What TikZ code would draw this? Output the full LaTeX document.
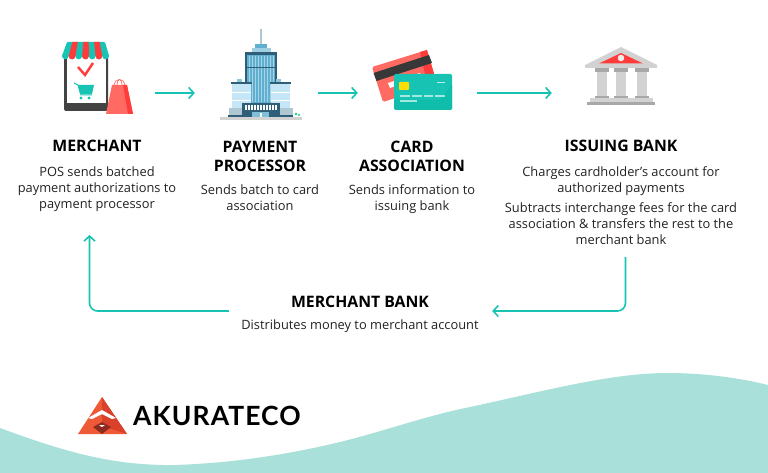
\documentclass[tikz,border=0pt]{standalone}
\usepackage{fontspec}
\usepackage{xcolor}
\usetikzlibrary{arrows.meta}
\setmainfont{Open Sans}
\newfontfamily\logofont[LetterSpace=4]{Lato}
\definecolor{teal1}{HTML}{17C3B2}
\definecolor{teal2}{HTML}{0FBDAA}
\definecolor{wave}{HTML}{A9E1DA}
\definecolor{coral}{HTML}{FF6B63}
\definecolor{redd}{HTML}{FF3B3B}
\definecolor{ink}{HTML}{222222}
\definecolor{stone}{HTML}{D2D2D2}
\definecolor{stonedk}{HTML}{A8A8A8}
\definecolor{towerdk}{HTML}{2F5F78}
\definecolor{towerbl}{HTML}{5EAFD0}
\definecolor{glass}{HTML}{C5E6F6}
\definecolor{logoa}{HTML}{EE5A36}
\definecolor{logob}{HTML}{D9412A}
\definecolor{logoc}{HTML}{8E2A20}
\tikzset{
  headtxt/.style={font=\bfseries\fontsize{15.8}{19}\selectfont,align=center,text=black,inner sep=0pt},
  bodytxt/.style={font=\fontsize{12.85}{15.8}\selectfont,align=center,text=ink,inner sep=0pt},
  iconbox/.style={minimum height=70pt,inner sep=0pt},
  flow/.style={draw=teal1,line width=1.6pt,-{Straight Barb[length=5pt,width=11pt,line width=1.6pt]}}
}
\begin{document}
\begin{tikzpicture}[x=1pt,y=-1pt]
        \useasboundingbox (0,0) rectangle (768,473);

        % Wave at the bottom
        \fill[wave] (0,428) .. controls (60,450) and (110,466) .. (175,465)
            .. controls (235,463) and (290,454) .. (340,442)
            .. controls (385,431) and (425,416) .. (470,407)
            .. controls (540,392) and (610,373) .. (667,373)
            .. controls (705,373) and (740,378) .. (768,385)
            -- (768,473) -- (0,473) -- cycle;

        % Logo
        \fill[logoa] (102,397) -- (127,434) -- (78,434) -- cycle;
        \fill[logob] (102,397) -- (127,434) -- (102,426) -- cycle;
        \fill[white] (88,418) -- (102,410) -- (116,418) -- (112,419) -- (102,414) -- (92,419) -- cycle;
        \fill[logoc] (93,427) -- (102,422) -- (111,427) -- (102,434) -- cycle;
        \fill[white] (99,425) -- (105,425) -- (102,427) -- cycle;
        \node[font=\logofont\bfseries\fontsize{26.5}{27}\selectfont,anchor=west,inner sep=0pt] (logo) at (133,415.5) {AKURATECO};

        % Shop icon
        \fill[ink!85,rounded corners=2pt] (64,52) -- (64,111) -- (108,111) -- (108,52) -- cycle;
        \fill[white] (66.5,52) rectangle (105.5,103);
        \fill[teal1,rounded corners=1pt] (67,42) -- (105,42) -- (109,56) -- (62,56) -- cycle;
        \foreach \k in {0,1,...,6}
            \fill[teal1] ({62+(\k+.5)*6.71},56) circle (3.36);
        \foreach \k in {1,3,5}{
            \fill[redd] ({67+\k*5.43},42) -- ({67+(\k+1)*5.43},42) -- ({62+(\k+1)*6.71},56) -- ({62+\k*6.71},56) -- cycle;
            \fill[redd] ({62+(\k+.5)*6.71},56) circle (3.36);
        }
        \draw[redd,line width=2.4pt] (78,67) -- (85,75) -- (93,63);
        \draw[teal1,line width=1pt] (74,83) -- (78,85) -- (81,95) -- (92,95);
        \fill[teal1] (78,85) -- (94,85) -- (92,94) -- (80,94) -- cycle;
        \fill[teal1] (81,98) circle (1.6) (89,98) circle (1.6);
        \fill[coral] (112,85) -- (127,85) -- (133,114) -- (106,114) -- cycle;
        \fill[redd] (123,85) -- (127,85) -- (133,114) -- (128,114) -- cycle;
        \draw[coral,line width=.7pt] (114,85) arc[start angle=180,end angle=360,radius=5.5];
        \draw[coral,line width=.7pt] (117,85) arc[start angle=180,end angle=360,x radius=2.5,y radius=5.5];

        % Building icon
        \fill[stone] (220,117) rectangle (302,120);
        \fill[stone!70!towerbl] (260,29) rectangle (262,44);
        \fill[towerbl] (255,44) rectangle (267,48);
        \fill[towerbl!60] (252,48) rectangle (271,52);
        \fill[towerdk] (245,52) rectangle (277,103);
        \fill[towerbl] (247,55) rectangle (275,103);
        \foreach \x in {249,252,...,273}
            \fill[towerbl!55] (\x,56) rectangle (\x+1,102);
        \draw[towerdk,line width=.6pt] (247,67) -- (275,67);
        \foreach \x/\w in {232/19,271/19}{
            \fill[glass] (\x,84) rectangle (\x+\w,108);
            \fill[towerdk] (\x-1,82.5) rectangle (\x+\w+1,84.5);
            \fill[towerbl!70] (\x+5,79) rectangle (\x+10,82.5);
            \foreach \y in {92,100}
                \fill[white] (\x,\y) rectangle (\x+\w,\y+1);
        }
        \fill[stone!70!towerbl] (229,108) rectangle (242,116);
        \fill[stone!70!towerbl] (280,108) rectangle (293,116);
        \fill[towerdk] (228,115) rectangle (293,117.5);
        \fill[towerdk] (242,103) rectangle (280,117);
        \foreach \x in {245,248,...,275}
            \fill[white] (\x,105) rectangle (\x+2,110);
        \fill[towerbl!80] (252,112) rectangle (269,117);
        \fill[white] (260,113) rectangle (262,117);
        \fill[teal1!70!green] (296,114) circle (1.3) (299,115) circle (1.2);

        % Cards icon
        \fill[coral,rounded corners=1.5pt] (372,67) -- (427,50) -- (437,84) -- (383,102) -- cycle;
        \fill[redd] (420,52) -- (427,50) -- (437,84) -- (428,87) -- cycle;
        \fill[ink!90] (373.5,73) -- (429,55) -- (432,63) -- (376.5,81) -- cycle;
        \fill[white] (388,83) -- (420,73) -- (421,77) -- (390,88) -- cycle;
        \fill[teal1,rounded corners=1.5pt] (394,74) rectangle (452,110);
        \fill[teal2,rounded corners=1.5pt] (394,100) -- (440,100) -- (452,84) -- (452,110) -- (394,110) -- cycle;
        \fill[yellow!80!orange,rounded corners=.8pt] (399,82) rectangle (409,90);
        \fill[white!70!teal1] (437,82.5) rectangle (445,83.5);
        \foreach \x in {400,412,423.5,435}
            \fill[white!60!teal1] (\x,95.5) rectangle (\x+9.5,96.8);
        \fill[white!60!teal1] (400,100.5) rectangle (417,101.7);

        % Bank icon
        \fill[stone] (621,47) -- (657,65) -- (657,68) -- (585,68) -- (585,65) -- cycle;
        \fill[redd] (621,53) -- (643,63.5) -- (599,63.5) -- cycle;
        \fill[stone!40] (621,58) circle (3.3);
        \foreach \x in {602,621,641.5}{
            \fill[stone] (\x-5,72) rectangle (\x+5,98);
            \fill[stonedk] (\x-7,68) rectangle (\x+7,72);
            \fill[stonedk] (\x-7,96.5) rectangle (\x+7,98.5);
        }
        \fill[stone] (590,98) rectangle (653,102);
        \fill[stonedk] (587,102) rectangle (655,105.5);

        % Empty boxes round the icons
        \node[iconbox,minimum width=115pt] (merchbox) at (97.5,93) {};
        \node[iconbox,minimum width=123pt] (procbox) at (256.5,93) {};
        \node[iconbox,minimum width=119pt] (cardbox) at (417.5,93) {};
        \node[iconbox,minimum width=138pt] (bankbox) at (621,93) {};
        \node[iconbox,minimum width=263pt,minimum height=40pt] (mbankbox) at (360.5,311) {};
        \coordinate (issueend) at (625.5,257);
        \coordinate (merchend) at (89.5,235);

        % Texts
        \node[headtxt] (merchhead) at (97,146) {MERCHANT};
        \node[bodytxt,anchor=north] (merchtxt) at (97,166.8) {POS sends batched\\payment authorizations to\\payment processor};
        \node[headtxt,anchor=north] (prochead) at (260,140.7) {PAYMENT\\PROCESSOR};
        \node[bodytxt,anchor=north] (proctxt) at (260,184.8) {Sends batch to card\\association};
        \node[headtxt,anchor=north] (cardhead) at (412,140.7) {CARD\\ASSOCIATION};
        \node[bodytxt,anchor=north] (cardtxt) at (412,184.8) {Sends information to\\issuing bank};
        \node[headtxt] (bankhead) at (621,146) {ISSUING BANK};
        \node[bodytxt,anchor=north] (banktxta) at (621,166.8) {Charges cardholder’s account for\\authorized payments};
        \node[bodytxt,anchor=north] (banktxtb) at (621,202.8) {Subtracts interchange fees for the card\\association \& transfers the rest to the\\merchant bank};
        \node[headtxt] (mbankhead) at (360,302) {MERCHANT BANK};
        \node[bodytxt] (mbanktxt) at (360,326.5) {Distributes money to merchant account};

        % Arrows
        \draw[flow] (merchbox.east) -- (procbox.west);
        \draw[flow] (procbox.east) -- (cardbox.west);
        \draw[flow] (cardbox.east) -- (bankbox.west);
        \draw[flow,rounded corners=8pt] (issueend) |- (mbankbox.east);
        \draw[flow,rounded corners=8pt] (mbankbox.west) -| (merchend);
    \end{tikzpicture}
\end{document}
